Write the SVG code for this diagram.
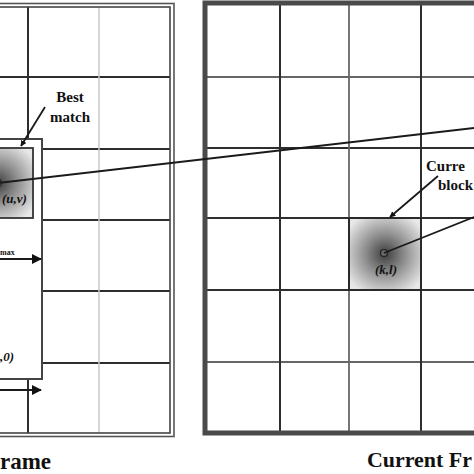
<svg xmlns="http://www.w3.org/2000/svg" width="474" height="474" viewBox="0 0 474 474">
<style>
.dark{stroke:#2e2e2e;stroke-width:2;fill:none}
.mid{stroke:#666;stroke-width:1.8;fill:none}
.light{stroke:#c8c8c8;stroke-width:1.5;fill:none}
.lbl{font-family:"Liberation Serif","Times New Roman",serif;font-weight:bold;fill:#111}
.it{font-style:italic}
.conn{stroke:#1a1a1a;stroke-width:1.8;fill:none}
</style>
<defs>
<radialGradient id="shade" cx="0.5" cy="0.5" r="0.62">
<stop offset="0" stop-color="#3e3e3e"/>
<stop offset="0.45" stop-color="#8f8f8f"/>
<stop offset="1" stop-color="#e8e8e8"/>
</radialGradient>
<marker id="ah" viewBox="0 0 10 10" refX="9" refY="5" markerWidth="6" markerHeight="6" orient="auto" markerUnits="userSpaceOnUse">
<path d="M0,0 L10,5 L0,10 z" fill="#111"/>
</marker>
<marker id="ahb" viewBox="0 0 10 10" refX="9" refY="5" markerWidth="10" markerHeight="10" orient="auto" markerUnits="userSpaceOnUse">
<path d="M0,0 L10,5 L0,10 z" fill="#111"/>
</marker>
</defs>
<rect x="0" y="0" width="474" height="474" fill="#fff"/>

<g id="reference-frame">
<line class="dark" x1="0" y1="77" x2="170" y2="77"/>
<line class="dark" x1="0" y1="149" x2="170" y2="149"/>
<line class="dark" x1="0" y1="220" x2="170" y2="220"/>
<line class="dark" x1="0" y1="291" x2="170" y2="291"/>
<line class="dark" x1="0" y1="363" x2="170" y2="363"/>
<line class="dark" x1="28" y1="7" x2="28" y2="433"/>
<line class="light" x1="99" y1="7" x2="99" y2="433"/>
<rect x="-300" y="3.5" width="474" height="433" fill="none" stroke="#555" stroke-width="1.6"/>
<rect x="-300" y="7" width="470" height="426" fill="none" stroke="#444" stroke-width="1.6"/>
</g>

<g id="search-window">
<rect x="-100" y="139" width="142" height="240" fill="#fff" stroke="#444" stroke-width="2"/>
</g>

<g id="best-match-block">
<rect x="-38" y="148" width="71" height="70" fill="url(#shade)" stroke="#333" stroke-width="1.8"/>
<circle cx="-2" cy="183" r="3.5" fill="#666" stroke="#222" stroke-width="1.2"/>
<text class="lbl it" x="2" y="203" font-size="13">(u,v)</text>
</g>

<g id="current-frame">
<line class="mid" x1="205" y1="77" x2="474" y2="77"/>
<line class="dark" x1="205" y1="148" x2="474" y2="148"/>
<line class="dark" x1="205" y1="218" x2="474" y2="218"/>
<line class="dark" x1="205" y1="290" x2="474" y2="290"/>
<line class="mid" x1="205" y1="362" x2="474" y2="362"/>
<line class="dark" x1="280" y1="3" x2="280" y2="433"/>
<line class="mid" x1="349" y1="3" x2="349" y2="433"/>
<line class="dark" x1="421" y1="3" x2="421" y2="433"/>
<rect x="205" y="3" width="400" height="430" fill="none" stroke="#4a4a4a" stroke-width="5"/>
</g>

<g id="current-block">
<rect x="349" y="218" width="72" height="72" fill="url(#shade)" stroke="#2a2a2a" stroke-width="2"/>
<circle cx="384" cy="253" r="3.5" fill="#666" stroke="#222" stroke-width="1.2"/>
<text class="lbl it" x="386" y="274" font-size="13" text-anchor="middle">(k,l)</text>
</g>

<g id="connectors">
<line class="conn" x1="-2" y1="183" x2="474" y2="128"/>
<line class="conn" x1="384" y1="253" x2="474" y2="217"/>
<line class="conn" x1="45" y1="107" x2="21" y2="146" marker-end="url(#ah)"/>
<line class="conn" x1="438" y1="176" x2="390" y2="217" marker-end="url(#ah)"/>
<line class="conn" x1="0" y1="259" x2="41" y2="259" marker-end="url(#ahb)"/>
<line class="conn" x1="0" y1="390" x2="41" y2="390" marker-end="url(#ahb)"/>
</g>

<g id="labels">
<text class="lbl" x="70" y="102" font-size="15" text-anchor="middle">Best</text>
<text class="lbl" x="70" y="122" font-size="15" text-anchor="middle">match</text>
<text class="lbl" x="426" y="171" font-size="15">Curre</text>
<text class="lbl" x="438" y="190" font-size="15">block</text>
<text class="lbl" x="0" y="255" font-size="8">max</text>
<text class="lbl it" x="0" y="361" font-size="13">,0)</text>
<text class="lbl" x="0" y="469" font-size="23">rame</text>
<text class="lbl" x="367" y="467" font-size="22" textLength="105" lengthAdjust="spacingAndGlyphs">Current Fr</text>
</g>
</svg>
